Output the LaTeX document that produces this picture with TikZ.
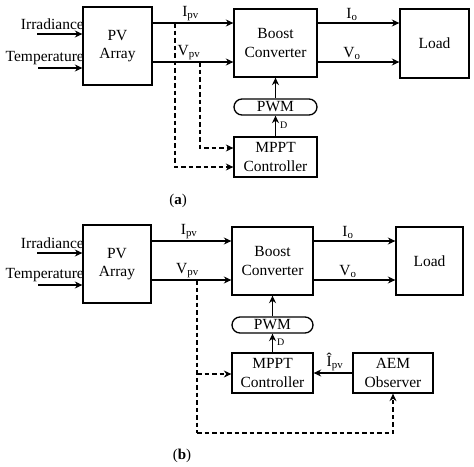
\documentclass[tikz,border=0pt]{standalone}
\usepackage{fontspec}
\setmainfont{Liberation Serif}
\usetikzlibrary{arrows.meta,shapes.misc}
\begin{document}
\begin{tikzpicture}[x=1pt,y=-1pt,
  blk/.style={draw,line width=1.3pt,inner sep=0pt,align=center,font=\fontsize{15.5}{18.5}\selectfont},
  pwmbox/.style={draw,line width=1.3pt,rounded rectangle,inner sep=0pt,font=\fontsize{15.5}{17}\selectfont},
  arr/.style={line width=1.2pt,-{Stealth[length=7.5pt,width=7pt]}},
  dsh/.style={line width=1.1pt,dash pattern=on 4.5pt off 3pt,-{Stealth[length=7.5pt,width=7pt]}},
  dshl/.style={line width=1.1pt,dash pattern=on 4.5pt off 3pt},
  lbl/.style={font=\fontsize{15.5}{17}\selectfont,inner sep=1.5pt},
  small/.style={font=\fontsize{10}{11}\selectfont,inner sep=0pt},
  captxt/.style={font=\fontsize{15}{16}\selectfont,inner sep=0pt}]
\useasboundingbox (0,0) rectangle (474,466);
% ---------------- (a) ----------------
\node[blk,minimum width=69pt,minimum height=78pt] (pva) at (117.5,46) {PV\\Array};
\node[blk,minimum width=83pt,minimum height=68pt] (boosta) at (275.5,43) {Boost\\Converter};
\node[blk,minimum width=69pt,minimum height=69pt] (loada) at (434.5,43.5) {Load};
\node[pwmbox,minimum width=83pt,minimum height=16pt] (pwma) at (275.5,107) {PWM};
\node[blk,minimum width=83pt,minimum height=40pt] (mppta) at (275.5,157) {MPPT\\Controller};
\node[lbl,anchor=east,inner sep=0pt] (irrta) at (84,24) {Irradiance};
\node[lbl,anchor=east,inner sep=0pt] (tempta) at (84,58) {Temperature};
\coordinate (irra) at (37,34);
\coordinate (tempa) at (38,68);
\draw[arr] (irra) -- (pva.west |- irra);
\draw[arr] (tempa) -- (pva.west |- tempa);
\coordinate (ia) at (152,23);
\coordinate (va) at (152,62);
\draw[arr] (pva.east |- ia) -- node[lbl,above,pos=0.47] {I\textsubscript{pv}} (boosta.west |- ia);
\draw[arr] (pva.east |- va) -- node[lbl,above,pos=0.45] {V\textsubscript{pv}} (boosta.west |- va);
\draw[arr] (boosta.east |- ia) -- node[lbl,above,pos=0.42] {I\textsubscript{o}} (loada.west |- ia);
\draw[arr] (boosta.east |- va) -- node[lbl,above,pos=0.42] {V\textsubscript{o}} (loada.west |- va);
\draw[arr] (pwma.north) -- (boosta.south);
\draw[arr] (mppta.north) -- node[small,right,xshift=4pt,yshift=1pt] {D} (pwma.south);
\coordinate (da1) at (175,23);
\coordinate (da2) at (200,62);
\coordinate (ya1) at (0,167);
\coordinate (ya2) at (0,148);
\draw[dsh] (da1) |- (mppta.west |- ya1);
\draw[dsh] (da2) |- (mppta.west |- ya2);
\node[captxt] (capa) at (178,201) {(\textbf{a})};
% ---------------- (b) ----------------
\node[blk,minimum width=68pt,minimum height=78pt] (pvb) at (117,264) {PV\\Array};
\node[blk,minimum width=81pt,minimum height=68pt] (boostb) at (272.5,261) {Boost\\Converter};
\node[blk,minimum width=67pt,minimum height=68pt] (loadb) at (429.5,261) {Load};
\node[pwmbox,minimum width=81pt,minimum height=16pt] (pwmb) at (272.5,325) {PWM};
\node[blk,minimum width=81pt,minimum height=40pt] (mpptb) at (272.5,373) {MPPT\\Controller};
\node[blk,minimum width=80pt,minimum height=40pt] (aem) at (393,373) {AEM\\Observer};
\node[lbl,anchor=east,inner sep=0pt] (irrtb) at (84,243) {Irradiance};
\node[lbl,anchor=east,inner sep=0pt] (temptb) at (84,275) {Temperature};
\coordinate (irrb) at (37,253);
\coordinate (tempb) at (38,285);
\draw[arr] (irrb) -- (pvb.west |- irrb);
\draw[arr] (tempb) -- (pvb.west |- tempb);
\coordinate (ib) at (151,241);
\coordinate (vb) at (151,280);
\draw[arr] (pvb.east |- ib) -- node[lbl,above,pos=0.47] {I\textsubscript{pv}} (boostb.west |- ib);
\draw[arr] (pvb.east |- vb) -- node[lbl,above,pos=0.45] {V\textsubscript{pv}} (boostb.west |- vb);
\draw[arr] (boostb.east |- ib) -- node[lbl,above,pos=0.42] {I\textsubscript{o}} (loadb.west |- ib);
\draw[arr] (boostb.east |- vb) -- node[lbl,above,pos=0.42] {V\textsubscript{o}} (loadb.west |- vb);
\draw[arr] (pwmb.north) -- (boostb.south);
\draw[arr] (mpptb.north) -- node[small,right,xshift=4pt,yshift=1pt] {D} (pwmb.south);
\draw[arr] (aem.west) -- node[lbl,above,pos=0.45] {Î\textsubscript{pv}} (mpptb.east);
\coordinate (db) at (197,280);
\coordinate (bot) at (197,433);
\coordinate (yb) at (0,374);
\draw[dshl] (db) -- (bot);
\draw[dsh] (bot) -| (aem.south);
\draw[dsh] (db |- yb) -- (mpptb.west |- yb);
\node[captxt] (capb) at (182,456) {(\textbf{b})};
\end{tikzpicture}
\end{document}
